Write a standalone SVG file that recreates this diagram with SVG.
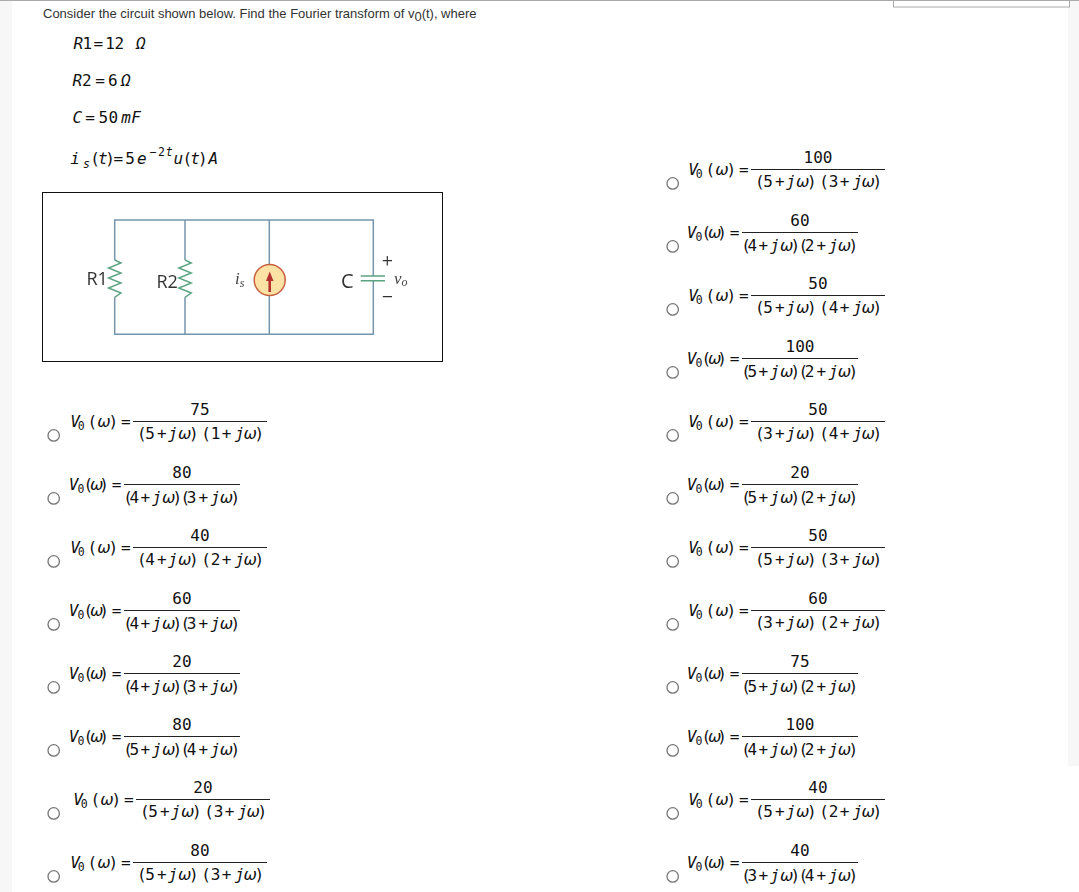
<svg xmlns="http://www.w3.org/2000/svg" width="1079" height="892" viewBox="0 0 1079 892">
<style>
text{fill:#111}
.h{font:13px "Liberation Sans",Arial,sans-serif;fill:#333}
.m{font:16px "DejaVu Sans Mono",monospace}
.i{font-style:italic}
.o{font-family:"DejaVu Sans",sans-serif;font-style:italic}
.s{font-size:11.500px}
.r{fill:#fff;stroke:#767676;stroke-width:1.3}
.b{stroke:#222;stroke-width:1;fill:none}
.w{fill:none;stroke:#7396ad;stroke-width:1.5}
.z{fill:none;stroke:#5aa380;stroke-width:1.4}
.c{font:18px "Open Sans",sans-serif;fill:#333}
.t{font:italic 17px "Liberation Serif",serif;fill:#444}
</style>
<defs><filter id="soft" x="-5%" y="-5%" width="110%" height="110%"><feGaussianBlur stdDeviation="0.4"/></filter></defs>
<rect width="1079" height="892" fill="#fff"/>
<rect x="0" y="0" width="12" height="892" fill="#f7f7f7"/>
<rect x="1068" y="0" width="11" height="766" fill="#f7f7f7"/>
<path d="M0 .5H1079" stroke="#aaa" fill="none"/>
<rect x="893.500" y="0.500" width="176" height="6.500" fill="#fff" stroke="#aaa"/>
<text class="h" x="43" y="18">Consider the circuit shown below. Find the Fourier transform of v<tspan dy="3">0</tspan><tspan dy="-3">(t), where</tspan></text>
<g id="givens">
<text class="m" x="73.500 82.500 93.500 105.200 114.500" y="49"><tspan class="i">R</tspan>1=12</text><text class="m i" x="135.900" y="49">Ω</text>
<text class="m" x="72.500 81.900 95.200 107.900" y="86"><tspan class="i">R</tspan>2=6</text><text class="m i" x="120.900" y="86">Ω</text>
<text class="m" x="72.500 85.200 98.500 108.500" y="122.500"><tspan class="i">C</tspan>=50</text><text class="m i" x="121.200 131.200" y="122.500">mF</text>
<text class="m i" x="70.200" y="164">i</text><text class="m i s" x="83.100" y="168">s</text>
<text class="m" x="90.200 97.900 105.200 113.500 125.200" y="164">(<tspan class="i">t</tspan>)=5</text><text class="m i" x="136.900" y="164">e</text>
<text class="m s" x="149.700 158.100 165.700" y="156">−2<tspan class="i">t</tspan></text>
<text class="m i" x="173.500" y="164">u</text><text class="m" x="182.500 190.200 197.900" y="164">(<tspan class="i">t</tspan>)</text><text class="m i" x="208.500" y="164">A</text>
</g>
<g id="circuit">
<rect x="42.500" y="192.500" width="400" height="169" fill="none" stroke="#111"/>
<g filter="url(#soft)">
<path class="w" d="M114.700 260V220H373.300V276M373.300 281V334.300H114.700V297.300M185 260V220M185 297.300V334.300M269.300 220V265M269.300 295V334.300"/>
<path class="z" d="M114.700 260L121 263L108.500 268L121 273L108.500 278L121 283L108.500 288L121 293L114.700 297.300"/>
<path class="z" d="M185 260L191.300 263L178.800 268L191.300 273L178.800 278L191.300 283L178.800 288L191.300 293L185 297.300"/>
<path class="z" d="M360.700 276H385M360.700 280.800H385"/>
<circle cx="269.700" cy="280" r="15.500" fill="#fde2a6" stroke="#c8613f" stroke-width="1.500"/>
<path d="M269.700 271.500L273.500 281H271V292H268.400V281H266Z" fill="#b5322f"/>
<text class="c" x="86.500" y="285">R1</text><text class="c" x="156.500" y="287.500">R2</text><text class="c" x="341" y="287.500" style="font-size:20px">C</text>
<text class="t" x="235" y="284">i<tspan dy="3" font-size="12">s</tspan></text><text class="t" x="394" y="284">v<tspan dy="2" font-size="12">o</tspan></text>
<path d="M382.800 260.700H392M387.300 256V265.400M382.800 296.700H392" stroke="#333" stroke-width="1.200" fill="none"/>
</g></g>
<g id="opt-l1"><circle class="r" cx="53.700" cy="435.400" r="5.700"/><text class="m i" x="70.200" y="427">V</text><text class="m s" x="77.700" y="430">0</text><text class="m" x="87.500" y="427" dx="0 .1 -2.200 2.800">(<tspan class="o">ω</tspan>)=</text><path class="b" d="M133 421.500H267"/><text class="m" x="200" y="415" text-anchor="middle">75</text><text class="m" x="137" y="439" dx="0 -1.300 2 1.400 .3 -2.300 0 -7 -.3 1.400 3.400 -1 -2.300">(5+<tspan class="i">j</tspan><tspan class="o">ω</tspan>) (1+<tspan class="i">j</tspan><tspan class="o">ω</tspan>)</text></g>
<g id="opt-l2"><circle class="r" cx="53.700" cy="498.400" r="5.700"/><text class="m i" x="68.800" y="489.500">V</text><text class="m s" x="77.500" y="492.500">0</text><text class="m" x="83.400" y="489.500" dx="0 -3 -4.100 2.700">(<tspan class="o">ω</tspan>)=</text><path class="b" d="M124 484.500H240"/><text class="m" x="182" y="478" text-anchor="middle">80</text><text class="m" x="123.200" y="503" dx="0 -3.300 1.400 1.800 .3 -2.800 -1.600 -3.600 2.100 2.400 -.3 -2.800">(4+<tspan class="i">j</tspan><tspan class="o">ω</tspan>)(3+<tspan class="i">j</tspan><tspan class="o">ω</tspan>)</text></g>
<g id="opt-l3"><circle class="r" cx="53.700" cy="561.400" r="5.700"/><text class="m i" x="70.200" y="553">V</text><text class="m s" x="77.700" y="556">0</text><text class="m" x="87.500" y="553" dx="0 .1 -2.200 2.800">(<tspan class="o">ω</tspan>)=</text><path class="b" d="M133 547.500H267"/><text class="m" x="200" y="541" text-anchor="middle">40</text><text class="m" x="137" y="565" dx="0 -1.300 2 1.400 .3 -2.300 0 -7 -.3 1.400 3.400 -1 -2.300">(4+<tspan class="i">j</tspan><tspan class="o">ω</tspan>) (2+<tspan class="i">j</tspan><tspan class="o">ω</tspan>)</text></g>
<g id="opt-l4"><circle class="r" cx="53.700" cy="624.400" r="5.700"/><text class="m i" x="68.800" y="615.500">V</text><text class="m s" x="77.500" y="618.500">0</text><text class="m" x="83.400" y="615.500" dx="0 -3 -4.100 2.700">(<tspan class="o">ω</tspan>)=</text><path class="b" d="M124 610.500H240"/><text class="m" x="182" y="604" text-anchor="middle">60</text><text class="m" x="123.200" y="629" dx="0 -3.300 1.400 1.800 .3 -2.800 -1.600 -3.600 2.100 2.400 -.3 -2.800">(4+<tspan class="i">j</tspan><tspan class="o">ω</tspan>)(3+<tspan class="i">j</tspan><tspan class="o">ω</tspan>)</text></g>
<g id="opt-l5"><circle class="r" cx="53.700" cy="687.400" r="5.700"/><text class="m i" x="68.800" y="678.500">V</text><text class="m s" x="77.500" y="681.500">0</text><text class="m" x="83.400" y="678.500" dx="0 -3 -4.100 2.700">(<tspan class="o">ω</tspan>)=</text><path class="b" d="M124 673.500H240"/><text class="m" x="182" y="667" text-anchor="middle">20</text><text class="m" x="123.200" y="692" dx="0 -3.300 1.400 1.800 .3 -2.800 -1.600 -3.600 2.100 2.400 -.3 -2.800">(4+<tspan class="i">j</tspan><tspan class="o">ω</tspan>)(3+<tspan class="i">j</tspan><tspan class="o">ω</tspan>)</text></g>
<g id="opt-l6"><circle class="r" cx="53.700" cy="750.400" r="5.700"/><text class="m i" x="68.800" y="741.500">V</text><text class="m s" x="77.500" y="744.500">0</text><text class="m" x="83.400" y="741.500" dx="0 -3 -4.100 2.700">(<tspan class="o">ω</tspan>)=</text><path class="b" d="M124 736.500H240"/><text class="m" x="182" y="730" text-anchor="middle">80</text><text class="m" x="123.200" y="755" dx="0 -3.300 1.400 1.800 .3 -2.800 -1.600 -3.600 2.100 2.400 -.3 -2.800">(5+<tspan class="i">j</tspan><tspan class="o">ω</tspan>)(4+<tspan class="i">j</tspan><tspan class="o">ω</tspan>)</text></g>
<g id="opt-l7"><circle class="r" cx="53.700" cy="813.400" r="5.700"/><text class="m i" x="73.200" y="805">V</text><text class="m s" x="80.700" y="808">0</text><text class="m" x="90.500" y="805" dx="0 .1 -2.200 2.800">(<tspan class="o">ω</tspan>)=</text><path class="b" d="M136 799.500H270"/><text class="m" x="203" y="793" text-anchor="middle">20</text><text class="m" x="140" y="817" dx="0 -1.300 2 1.400 .3 -2.300 0 -7 -.3 1.400 3.400 -1 -2.300">(5+<tspan class="i">j</tspan><tspan class="o">ω</tspan>) (3+<tspan class="i">j</tspan><tspan class="o">ω</tspan>)</text></g>
<g id="opt-l8"><circle class="r" cx="53.700" cy="876.400" r="5.700"/><text class="m i" x="70.200" y="868">V</text><text class="m s" x="77.700" y="871">0</text><text class="m" x="87.500" y="868" dx="0 .1 -2.200 2.800">(<tspan class="o">ω</tspan>)=</text><path class="b" d="M133 862.500H267"/><text class="m" x="200" y="856" text-anchor="middle">80</text><text class="m" x="137" y="880" dx="0 -1.300 2 1.400 .3 -2.300 0 -7 -.3 1.400 3.400 -1 -2.300">(5+<tspan class="i">j</tspan><tspan class="o">ω</tspan>) (3+<tspan class="i">j</tspan><tspan class="o">ω</tspan>)</text></g>
<g id="opt-r1"><circle class="r" cx="672.700" cy="183.400" r="5.700"/><text class="m i" x="688.200" y="175">V</text><text class="m s" x="695.700" y="178">0</text><text class="m" x="705.500" y="175" dx="0 .1 -2.200 2.800">(<tspan class="o">ω</tspan>)=</text><path class="b" d="M751 169.500H885"/><text class="m" x="818" y="163" text-anchor="middle">100</text><text class="m" x="755" y="187" dx="0 -1.300 2 1.400 .3 -2.300 0 -7 -.3 1.400 3.400 -1 -2.300">(5+<tspan class="i">j</tspan><tspan class="o">ω</tspan>) (3+<tspan class="i">j</tspan><tspan class="o">ω</tspan>)</text></g>
<g id="opt-r2"><circle class="r" cx="672.700" cy="246.400" r="5.700"/><text class="m i" x="686.800" y="237.500">V</text><text class="m s" x="695.500" y="240.500">0</text><text class="m" x="701.400" y="237.500" dx="0 -3 -4.100 2.700">(<tspan class="o">ω</tspan>)=</text><path class="b" d="M742 232.500H858"/><text class="m" x="800" y="226" text-anchor="middle">60</text><text class="m" x="741.200" y="251" dx="0 -3.300 1.400 1.800 .3 -2.800 -1.600 -3.600 2.100 2.400 -.3 -2.800">(4+<tspan class="i">j</tspan><tspan class="o">ω</tspan>)(2+<tspan class="i">j</tspan><tspan class="o">ω</tspan>)</text></g>
<g id="opt-r3"><circle class="r" cx="672.700" cy="309.400" r="5.700"/><text class="m i" x="688.200" y="301">V</text><text class="m s" x="695.700" y="304">0</text><text class="m" x="705.500" y="301" dx="0 .1 -2.200 2.800">(<tspan class="o">ω</tspan>)=</text><path class="b" d="M751 295.500H885"/><text class="m" x="818" y="289" text-anchor="middle">50</text><text class="m" x="755" y="313" dx="0 -1.300 2 1.400 .3 -2.300 0 -7 -.3 1.400 3.400 -1 -2.300">(5+<tspan class="i">j</tspan><tspan class="o">ω</tspan>) (4+<tspan class="i">j</tspan><tspan class="o">ω</tspan>)</text></g>
<g id="opt-r4"><circle class="r" cx="672.700" cy="372.400" r="5.700"/><text class="m i" x="686.800" y="363.500">V</text><text class="m s" x="695.500" y="366.500">0</text><text class="m" x="701.400" y="363.500" dx="0 -3 -4.100 2.700">(<tspan class="o">ω</tspan>)=</text><path class="b" d="M742 358.500H858"/><text class="m" x="800" y="352" text-anchor="middle">100</text><text class="m" x="741.200" y="377" dx="0 -3.300 1.400 1.800 .3 -2.800 -1.600 -3.600 2.100 2.400 -.3 -2.800">(5+<tspan class="i">j</tspan><tspan class="o">ω</tspan>)(2+<tspan class="i">j</tspan><tspan class="o">ω</tspan>)</text></g>
<g id="opt-r5"><circle class="r" cx="672.700" cy="435.400" r="5.700"/><text class="m i" x="688.200" y="427">V</text><text class="m s" x="695.700" y="430">0</text><text class="m" x="705.500" y="427" dx="0 .1 -2.200 2.800">(<tspan class="o">ω</tspan>)=</text><path class="b" d="M751 421.500H885"/><text class="m" x="818" y="415" text-anchor="middle">50</text><text class="m" x="755" y="439" dx="0 -1.300 2 1.400 .3 -2.300 0 -7 -.3 1.400 3.400 -1 -2.300">(3+<tspan class="i">j</tspan><tspan class="o">ω</tspan>) (4+<tspan class="i">j</tspan><tspan class="o">ω</tspan>)</text></g>
<g id="opt-r6"><circle class="r" cx="672.700" cy="498.400" r="5.700"/><text class="m i" x="686.800" y="489.500">V</text><text class="m s" x="695.500" y="492.500">0</text><text class="m" x="701.400" y="489.500" dx="0 -3 -4.100 2.700">(<tspan class="o">ω</tspan>)=</text><path class="b" d="M742 484.500H858"/><text class="m" x="800" y="478" text-anchor="middle">20</text><text class="m" x="741.200" y="503" dx="0 -3.300 1.400 1.800 .3 -2.800 -1.600 -3.600 2.100 2.400 -.3 -2.800">(5+<tspan class="i">j</tspan><tspan class="o">ω</tspan>)(2+<tspan class="i">j</tspan><tspan class="o">ω</tspan>)</text></g>
<g id="opt-r7"><circle class="r" cx="672.700" cy="561.400" r="5.700"/><text class="m i" x="688.200" y="553">V</text><text class="m s" x="695.700" y="556">0</text><text class="m" x="705.500" y="553" dx="0 .1 -2.200 2.800">(<tspan class="o">ω</tspan>)=</text><path class="b" d="M751 547.500H885"/><text class="m" x="818" y="541" text-anchor="middle">50</text><text class="m" x="755" y="565" dx="0 -1.300 2 1.400 .3 -2.300 0 -7 -.3 1.400 3.400 -1 -2.300">(5+<tspan class="i">j</tspan><tspan class="o">ω</tspan>) (3+<tspan class="i">j</tspan><tspan class="o">ω</tspan>)</text></g>
<g id="opt-r8"><circle class="r" cx="672.700" cy="624.400" r="5.700"/><text class="m i" x="688.200" y="616">V</text><text class="m s" x="695.700" y="619">0</text><text class="m" x="705.500" y="616" dx="0 .1 -2.200 2.800">(<tspan class="o">ω</tspan>)=</text><path class="b" d="M751 610.500H885"/><text class="m" x="818" y="604" text-anchor="middle">60</text><text class="m" x="755" y="628" dx="0 -1.300 2 1.400 .3 -2.300 0 -7 -.3 1.400 3.400 -1 -2.300">(3+<tspan class="i">j</tspan><tspan class="o">ω</tspan>) (2+<tspan class="i">j</tspan><tspan class="o">ω</tspan>)</text></g>
<g id="opt-r9"><circle class="r" cx="672.700" cy="687.400" r="5.700"/><text class="m i" x="686.800" y="678.500">V</text><text class="m s" x="695.500" y="681.500">0</text><text class="m" x="701.400" y="678.500" dx="0 -3 -4.100 2.700">(<tspan class="o">ω</tspan>)=</text><path class="b" d="M742 673.500H858"/><text class="m" x="800" y="667" text-anchor="middle">75</text><text class="m" x="741.200" y="692" dx="0 -3.300 1.400 1.800 .3 -2.800 -1.600 -3.600 2.100 2.400 -.3 -2.800">(5+<tspan class="i">j</tspan><tspan class="o">ω</tspan>)(2+<tspan class="i">j</tspan><tspan class="o">ω</tspan>)</text></g>
<g id="opt-r10"><circle class="r" cx="672.700" cy="750.400" r="5.700"/><text class="m i" x="686.800" y="741.500">V</text><text class="m s" x="695.500" y="744.500">0</text><text class="m" x="701.400" y="741.500" dx="0 -3 -4.100 2.700">(<tspan class="o">ω</tspan>)=</text><path class="b" d="M742 736.500H858"/><text class="m" x="800" y="730" text-anchor="middle">100</text><text class="m" x="741.200" y="755" dx="0 -3.300 1.400 1.800 .3 -2.800 -1.600 -3.600 2.100 2.400 -.3 -2.800">(4+<tspan class="i">j</tspan><tspan class="o">ω</tspan>)(2+<tspan class="i">j</tspan><tspan class="o">ω</tspan>)</text></g>
<g id="opt-r11"><circle class="r" cx="672.700" cy="813.400" r="5.700"/><text class="m i" x="688.200" y="805">V</text><text class="m s" x="695.700" y="808">0</text><text class="m" x="705.500" y="805" dx="0 .1 -2.200 2.800">(<tspan class="o">ω</tspan>)=</text><path class="b" d="M751 799.500H885"/><text class="m" x="818" y="793" text-anchor="middle">40</text><text class="m" x="755" y="817" dx="0 -1.300 2 1.400 .3 -2.300 0 -7 -.3 1.400 3.400 -1 -2.300">(5+<tspan class="i">j</tspan><tspan class="o">ω</tspan>) (2+<tspan class="i">j</tspan><tspan class="o">ω</tspan>)</text></g>
<g id="opt-r12"><circle class="r" cx="672.700" cy="876.400" r="5.700"/><text class="m i" x="686.800" y="867.500">V</text><text class="m s" x="695.500" y="870.500">0</text><text class="m" x="701.400" y="867.500" dx="0 -3 -4.100 2.700">(<tspan class="o">ω</tspan>)=</text><path class="b" d="M742 862.500H858"/><text class="m" x="800" y="856" text-anchor="middle">40</text><text class="m" x="741.200" y="881" dx="0 -3.300 1.400 1.800 .3 -2.800 -1.600 -3.600 2.100 2.400 -.3 -2.800">(3+<tspan class="i">j</tspan><tspan class="o">ω</tspan>)(4+<tspan class="i">j</tspan><tspan class="o">ω</tspan>)</text></g>
</svg>
